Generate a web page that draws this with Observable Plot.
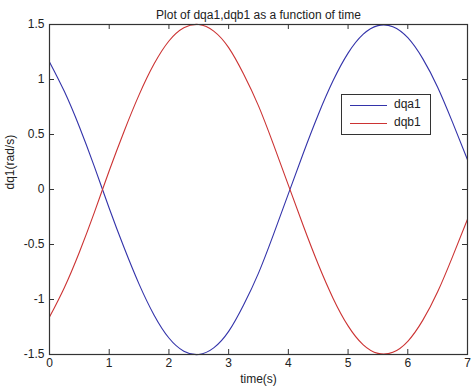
<!DOCTYPE html>
<html>
<head>
<meta charset="utf-8">
<script src="https://cdn.jsdelivr.net/npm/d3@7"></script>
<script src="https://cdn.jsdelivr.net/npm/@observablehq/plot@0.6"></script>
<style>
  body { margin: 0; background: #fff; font-family: "Liberation Sans", Arial, sans-serif; }
  #wrap { position: relative; width: 474px; height: 392px; }
  #legend { position: absolute; left: 341px; top: 94px; width: 88px; height: 39px; border: 1px solid #333; background: #fff; font-size: 12px; color: #222; }
  .row { position: absolute; left: 0; height: 14px; }
  .sw { position: absolute; left: 8px; width: 37px; height: 0; border-top: 1px solid; }
  .lab { position: absolute; left: 52px; top: -8px; }
</style>
</head>
<body>
<div id="wrap"></div>
<script>
const title = "Plot of dqa1,dqb1 as a function of time";
const xLabel = "time(s)";
const yLabel = "dq1(rad/s)";
const seriesNames = ["dqa1", "dqb1"];
const seriesColors = ["#3333aa", "#cc3333"];
const xTicks = [0, 1, 2, 3, 4, 5, 6, 7];
const yTicks = [-1.5, -1, -0.5, 0, 0.5, 1, 1.5];

const time = [0, 0.25, 0.5, 0.75, 1, 1.25, 1.5, 1.75, 2, 2.25, 2.5, 2.75, 3, 3.25, 3.5, 3.75, 4, 4.25, 4.5, 4.75, 5, 5.25, 5.5, 5.75, 6, 6.25, 6.5, 6.75, 7];
const dqa1 = [1.16, 0.89, 0.57, 0.21, -0.17, -0.53, -0.86, -1.14, -1.35, -1.47, -1.50, -1.44, -1.29, -1.05, -0.76, -0.41, -0.04, 0.33, 0.68, 0.99, 1.24, 1.41, 1.49, 1.48, 1.38, 1.19, 0.93, 0.61, 0.27];
const dqb1 = [-1.16, -0.89, -0.57, -0.21, 0.17, 0.53, 0.86, 1.14, 1.35, 1.47, 1.50, 1.44, 1.29, 1.05, 0.76, 0.41, 0.04, -0.33, -0.68, -0.99, -1.24, -1.41, -1.49, -1.48, -1.38, -1.19, -0.93, -0.61, -0.27];

const rows = [];
time.forEach((t, i) => {
  rows.push({t, v: dqa1[i], s: seriesNames[0]});
  rows.push({t, v: dqb1[i], s: seriesNames[1]});
});

const W = 474, H = 392, mL = 49, mR = 7, mT = 24, mB = 38;
const fw = W - mL - mR, fh = H - mT - mB, tl = 5;

const chart = Plot.plot({
  width: W, height: H,
  marginLeft: mL, marginRight: mR, marginTop: mT, marginBottom: mB,
  style: { fontFamily: "'Liberation Sans', Arial, sans-serif", fontSize: "12px", color: "#222", background: "#fff" },
  x: { domain: [0, 7] },
  y: { domain: [-1.5, 1.5] },
  color: { domain: seriesNames, range: seriesColors },
  marks: [
    Plot.line(rows, { x: "t", y: "v", z: "s", stroke: "s", strokeWidth: 1.1, curve: "natural" }),
    Plot.tickX(xTicks, { x: d => d, insetTop: fh - tl, stroke: "#333" }),
    Plot.tickX(xTicks, { x: d => d, insetBottom: fh - tl, stroke: "#333" }),
    Plot.tickY(yTicks, { y: d => d, insetRight: fw - tl, stroke: "#333" }),
    Plot.tickY(yTicks, { y: d => d, insetLeft: fw - tl, stroke: "#333" }),
    Plot.axisX(xTicks, { tickSize: 0, tickPadding: 4, tickFormat: d => String(d), fontSize: 12, label: null }),
    Plot.axisY(yTicks, { tickSize: 0, tickPadding: 5, tickFormat: d => String(d), fontSize: 12, label: null }),
    Plot.frame({ stroke: "#333", strokeWidth: 1.2 }),
    Plot.text([title], { text: d => d, frameAnchor: "top", dy: -14, fontSize: 12, fill: "#222" }),
    Plot.text([xLabel], { text: d => d, frameAnchor: "bottom", dy: 28, fontSize: 12, fill: "#222" }),
    Plot.text([yLabel], { text: d => d, frameAnchor: "left", dx: -39, rotate: -90, fontSize: 12, fill: "#222" })
  ]
});

const wrap = document.getElementById("wrap");
wrap.appendChild(chart);

const legend = document.createElement("div");
legend.id = "legend";
seriesNames.forEach((name, i) => {
  const row = document.createElement("div");
  row.className = "row";
  row.style.top = (10 + i * 18) + "px";
  const sw = document.createElement("div");
  sw.className = "sw";
  sw.style.borderTopColor = seriesColors[i];
  const lab = document.createElement("div");
  lab.className = "lab";
  lab.textContent = name;
  row.appendChild(sw);
  row.appendChild(lab);
  legend.appendChild(row);
});
wrap.appendChild(legend);
</script>
</body>
</html>
